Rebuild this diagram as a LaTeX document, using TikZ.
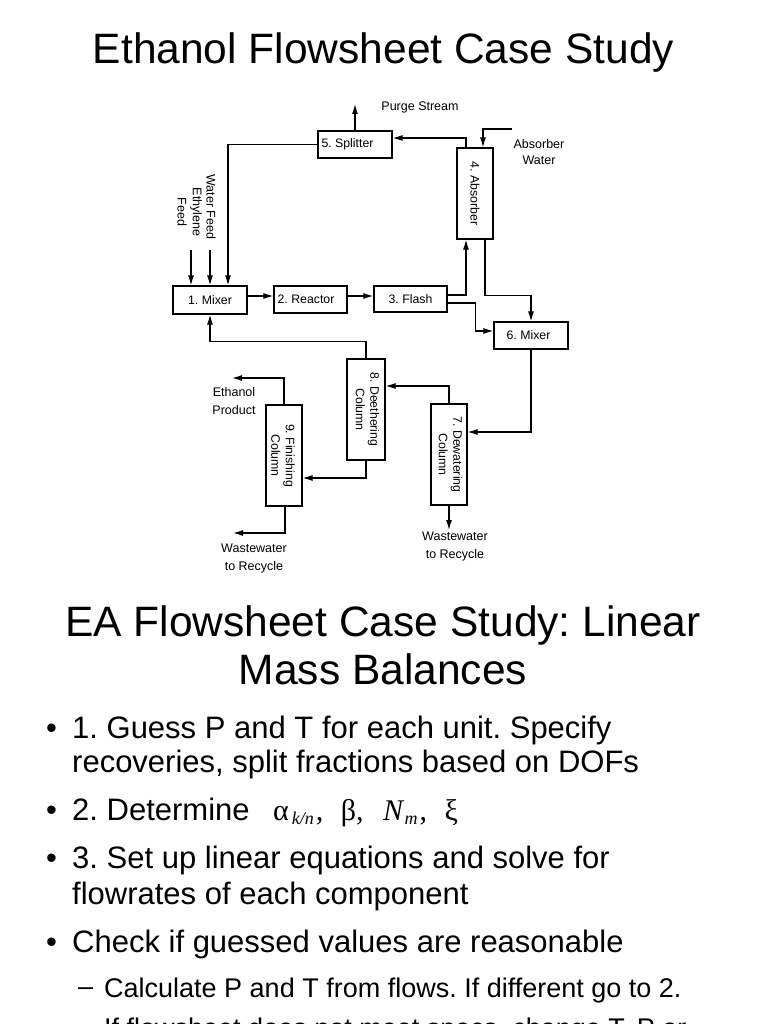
\documentclass[tikz,border=0pt]{standalone}
\usepackage{fontspec}
\setmainfont{Liberation Sans}
\newfontfamily\symfont{Liberation Serif}
\usetikzlibrary{arrows.meta}
\frenchspacing
\tikzset{
  unitbox/.style={draw,line width=1.2pt,inner sep=0pt,align=center,font=\fontsize{12.3}{14.5}\selectfont},
  flow/.style={line width=1.2pt,-{Latex[length=10pt,width=6pt]}},
  tag/.style={align=center,inner sep=0pt,font=\fontsize{12.5}{18}\selectfont},
  headline/.style={inner sep=0pt,anchor=base,font=\fontsize{42.5}{48}\selectfont},
  bodyline/.style={inner sep=0pt,anchor=base west,font=\fontsize{31}{34}\selectfont},
  subline/.style={inner sep=0pt,anchor=base west,font=\fontsize{27}{32}\selectfont}
}
\begin{document}
\begin{tikzpicture}[x=1pt,y=-1pt]
\clip (0,0) rectangle (768,1024);
% headings
\node[headline] (title) at (383.5,64) {Ethanol Flowsheet Case Study};
\node[headline] (titleb) at (383,636) {EA Flowsheet Case Study: Linear};
\node[headline] (titlec) at (383,684) {Mass Balances};
% units
\node[unitbox,minimum width=74pt,minimum height=27pt] (splitter) at (355,144.5) {5. Splitter\hspace*{15pt}};
\node[unitbox,minimum width=36pt,minimum height=91pt] (absorber) at (475,193.5) {\rotatebox{-90}{4. Absorber}};
\node[unitbox,minimum width=74pt,minimum height=28pt] (mixera) at (210,300) {1. Mixer};
\node[unitbox,minimum width=73pt,minimum height=27pt] (reactor) at (310.5,299.5) {2. Reactor\hspace*{9pt}};
\node[unitbox,minimum width=73pt,minimum height=26pt] (flash) at (410.5,299) {3. Flash};
\node[unitbox,minimum width=74pt,minimum height=27pt] (mixerb) at (531,335.5) {6. Mixer\hspace*{5pt}};
\node[unitbox,minimum width=38pt,minimum height=101pt] (deeth) at (366,409.5) {\rotatebox{-90}{\begin{tabular}{@{}c@{}}8. Deethering\\Column\end{tabular}}};
\node[unitbox,minimum width=36pt,minimum height=101pt] (dewater) at (449,454.5) {\rotatebox{-90}{\begin{tabular}{@{}c@{}}7. Dewatering\\Column\end{tabular}}};
\node[unitbox,minimum width=36pt,minimum height=101pt] (finish) at (284,455.5) {\rotatebox{-90}{\begin{tabular}{@{}c@{}}9. Finishing\\Column\end{tabular}}\hspace*{5pt}};
% stream labels
\node[tag] (purge) at (420,107.5) {Purge Stream};
\node[tag,font=\fontsize{12.5}{16.5}\selectfont] (abswater) at (539,152) {Absorber\\Water};
\node[tag,rotate=-90] (waterfeed) at (211,207) {Water Feed};
\node[tag,rotate=-90] (ethylene) at (196,212) {Ethylene};
\node[tag,rotate=-90] (feed) at (182,212) {Feed};
\node[tag] (product) at (234,401) {Ethanol\\Product};
\node[tag] (wastea) at (254,558.5) {Wastewater\\to Recycle};
\node[tag] (wasteb) at (455,546.5) {Wastewater\\to Recycle};
% free ends
\coordinate (purgeend) at (355,104);
\coordinate (waterstart) at (512,129);
\coordinate (ethstart) at (191,250);
\coordinate (feedstart) at (210,250);
\coordinate (productend) at (232,378);
\coordinate (wasteaend) at (233,533);
\coordinate (wastebend) at (449,530);
% streams
\draw[flow] (splitter.north) -- (purgeend);
\draw[flow] ([xshift=-9pt]absorber.north) |- ([yshift=6.5pt]splitter.east);
\draw[flow] (waterstart) -| ([xshift=8pt]absorber.north);
\draw[flow] (splitter.west) -| ([xshift=18pt]mixera.north);
\draw[flow] (ethstart) -- ([xshift=-19pt]mixera.north);
\draw[flow] (feedstart) -- (mixera.north);
\draw[flow] ([yshift=4pt]mixera.east) -- ([yshift=3.5pt]reactor.west);
\draw[flow] ([yshift=3.5pt]reactor.east) -- ([yshift=3pt]flash.west);
\draw[flow] ([yshift=4pt]flash.east) -| ([xshift=-9pt]absorber.south);
\draw[flow] ([yshift=-4pt]flash.east) -- ++(28,0) |- ([yshift=4.5pt]mixerb.west);
\draw[flow] ([xshift=10pt]absorber.south) -- ++(0,56) -| (mixerb.north);
\draw[flow] (mixerb.south) |- ([yshift=22.5pt]dewater.east);
\draw[flow] (dewater.north) |- ([yshift=23.5pt]deeth.east);
\draw[flow] (deeth.north) -- ++(0,-17) -| (mixera.south);
\draw[flow] (deeth.south) |- ([yshift=-22.5pt]finish.east);
\draw[flow] (finish.north) |- (productend);
\draw[flow] ([xshift=1pt]finish.south) |- (wasteaend);
\draw[flow] (dewater.south) -- (wastebend);
% bullets
\node[bodyline] (bulleta) at (46,738) {•};
\node[bodyline] (linea) at (72,738) {1. Guess P and T for each unit. Specify};
\node[bodyline] (lineb) at (72,772) {recoveries, split fractions based on DOFs};
\node[bodyline] (bulletb) at (46,820) {•};
\node[bodyline] (linec) at (72,820) {2. Determine};
\node[inner sep=0pt,anchor=base west,font=\fontsize{30}{30}\selectfont\symfont] (symbols) at (273,820) {α\hspace{3pt}\raisebox{-4pt}{\fontsize{18}{18}\selectfont\itshape k/n}\hspace{2pt}, \hspace{10pt}β, \hspace{12pt}\textit{N}\raisebox{-4pt}{\fontsize{18}{18}\selectfont\itshape m}\hspace{2pt}, \hspace{10pt}ξ};
\node[bodyline] (bulletc) at (46,868) {•};
\node[bodyline] (lined) at (72,868) {3. Set up linear equations and solve for};
\node[bodyline] (linee) at (72,904) {flowrates of each component};
\node[bodyline] (bulletd) at (46,952) {•};
\node[bodyline] (linef) at (72,952) {Check if guessed values are reasonable};
\node[subline] (dasha) at (78,995) {–};
\node[subline] (lineg) at (104,997) {Calculate P and T from flows. If different go to 2.};
\node[subline] (dashb) at (78,1035) {–};
\node[subline] (lineh) at (104,1037) {If flowsheet does not meet specs, change T, P or};
\end{tikzpicture}
\end{document}
